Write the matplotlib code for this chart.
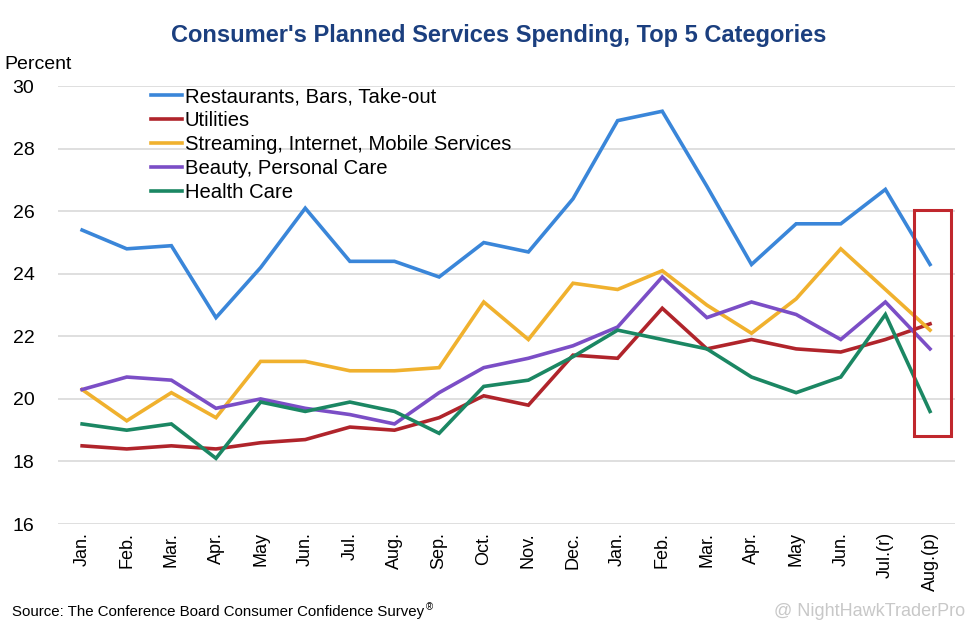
import matplotlib
matplotlib.use("Agg")
import matplotlib.pyplot as plt
from matplotlib.patches import Rectangle

plt.rcParams['font.family'] = ['Liberation Sans', 'DejaVu Sans']

months = ["Jan.", "Feb.", "Mar.", "Apr.", "May", "Jun.", "Jul.", "Aug.", "Sep.", "Oct.",
          "Nov.", "Dec.", "Jan.", "Feb.", "Mar.", "Apr.", "May", "Jun.", "Jul.(r)", "Aug.(p)"]

restaurants = [25.4, 24.8, 24.9, 22.6, 24.2, 26.1, 24.4, 24.4, 23.9, 25.0,
               24.7, 26.4, 28.9, 29.2, 26.8, 24.3, 25.6, 25.6, 26.7, 24.3]
utilities = [18.5, 18.4, 18.5, 18.4, 18.6, 18.7, 19.1, 19.0, 19.4, 20.1,
             19.8, 21.4, 21.3, 22.9, 21.6, 21.9, 21.6, 21.5, 21.9, 22.4]
streaming = [20.3, 19.3, 20.2, 19.4, 21.2, 21.2, 20.9, 20.9, 21.0, 23.1,
             21.9, 23.7, 23.5, 24.1, 23.0, 22.1, 23.2, 24.8, 23.5, 22.2]
beauty = [20.3, 20.7, 20.6, 19.7, 20.0, 19.7, 19.5, 19.2, 20.2, 21.0,
          21.3, 21.7, 22.3, 23.9, 22.6, 23.1, 22.7, 21.9, 23.1, 21.6]
health = [19.2, 19.0, 19.2, 18.1, 19.9, 19.6, 19.9, 19.6, 18.9, 20.4,
          20.6, 21.35, 22.2, 21.9, 21.6, 20.7, 20.2, 20.7, 22.7, 19.6]

series_names = ["Restaurants, Bars, Take-out", "Utilities",
                "Streaming, Internet, Mobile Services", "Beauty, Personal Care", "Health Care"]
series_vals = [restaurants, utilities, streaming, beauty, health]
colors = ["#3A86D9", "#B0242B", "#F0B12E", "#7B4EC6", "#1B8763"]

yticks = [16, 18, 20, 22, 24, 26, 28, 30]

fig = plt.figure(figsize=(9.75, 6.34), dpi=100)
ax = fig.add_axes([0.0595, 0.1735, 0.92, 0.6905])

x = list(range(len(months)))
for name, vals, c in zip(series_names, series_vals, colors):
    ax.plot(x, vals, color=c, lw=2.6, label=name, solid_joinstyle='miter')

ax.set_xlim(-0.54, 19.56)
ax.set_ylim(16, 30)
ax.set_yticks(yticks)
ax.set_yticklabels([str(t) for t in yticks], fontsize=14)
ax.set_xticks(x)
ax.set_xticklabels(months, rotation=90, fontsize=13)
ax.tick_params(axis='both', length=0, pad=6)
ax.tick_params(axis='y', pad=17)
ax.grid(axis='y', color='#DCDCDC', lw=1.3)
ax.set_axisbelow(True)
for s in ax.spines.values():
    s.set_visible(False)

# highlight box on latest month
ax.add_patch(Rectangle((18.63, 18.8), 0.83, 7.24, fill=False,
                       edgecolor='#C0272D', lw=2.2, zorder=5, clip_on=False))

leg = ax.legend(loc='upper left', bbox_to_anchor=(0.0945, 1.016), frameon=False,
                fontsize=14.6, handlelength=1.55, handletextpad=0.12,
                labelspacing=0.24, borderaxespad=0)

fig.text(0.511, 0.944, "Consumer's Planned Services Spending, Top 5 Categories",
         ha='center', va='center', fontsize=17, fontweight='bold', color='#1B3F7F')
fig.text(0.005, 0.898, "Percent", ha='left', va='center', fontsize=14)

fig.text(0.012, 0.034, "Source: The Conference Board Consumer Confidence Survey",
         ha='left', va='center', fontsize=10.8)
fig.text(0.437, 0.042, "\u00ae", ha='left', va='center', fontsize=7)
fig.text(0.99, 0.036, "@ NightHawkTraderPro", ha='right', va='center',
         fontsize=13, color='#C8C8C8')

fig.savefig("out.png", dpi=100, facecolor='white')
